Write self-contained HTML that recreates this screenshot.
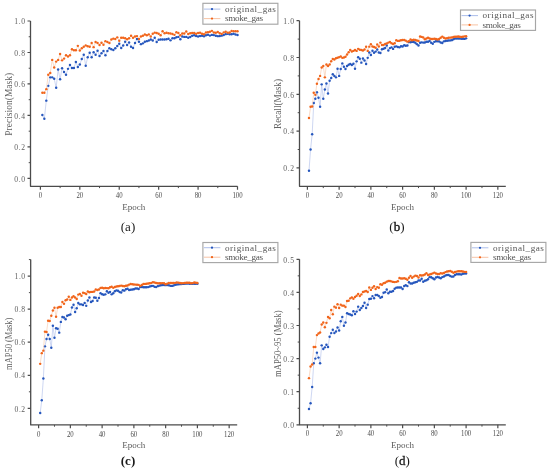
<!DOCTYPE html>
<html><head><meta charset="utf-8"><title>Training curves</title>
<style>
html,body{margin:0;padding:0;background:#fff;}
body{width:550px;height:472px;overflow:hidden;}
svg{display:block;}
.tl{font-family:"Liberation Serif","Noto Serif CJK SC",serif;font-size:7.6px;letter-spacing:0.55px;fill:#5c5c5c;}
.xl{font-family:"Liberation Serif","Noto Serif CJK SC",serif;font-size:7.2px;fill:#4a4a4a;}
.al{font-family:"Liberation Serif","Noto Serif CJK SC",serif;font-size:9px;fill:#5c5c5c;}
.yl{font-family:"Liberation Serif","Noto Serif CJK SC",serif;font-size:9.4px;fill:#646464;}
.lg{font-family:"Liberation Serif","Noto Serif CJK SC",serif;font-size:9.2px;fill:#555;}
.cap{font-family:"Liberation Serif",serif;font-size:13px;fill:#1a1a1a;}
.cap.b{font-weight:bold;}
</style></head>
<body>
<svg width="550" height="472" viewBox="0 0 550 472">
<rect width="550" height="472" fill="#fff"/>
<g id="pA"><path d="M42.37,114.97 L44.34,118.75 L46.31,100.64 L48.28,85.85 L50.25,77.35 L52.23,77.35 L54.2,78.77 L56.17,87.74 L58.14,69.48 L60.11,79.24 L62.08,68.22 L64.05,72 L66.02,74.67 L67.99,68.85 L69.97,65.07 L71.94,68.06 L73.91,68.06 L75.88,61.92 L77.85,66.96 L79.82,64.44 L81.79,58.93 L83.76,54.84 L85.73,65.7 L87.7,57.2 L89.68,52.79 L91.65,57.2 L93.62,52.17 L95.59,54.84 L97.56,50.75 L99.53,55.94 L101.5,53.27 L103.47,51.06 L105.44,55.16 L107.41,50.91 L109.38,48.23 L111.36,49.17 L113.33,49.96 L115.3,48.23 L117.27,46.03 L119.24,43.82 L121.21,48.07 L123.18,45.55 L125.15,41.78 L127.12,45.08 L129.09,42.56 L131.07,46.81 L133.04,48.07 L135.01,43.04 L136.98,38.94 L138.95,41.78 L140.92,44.14 L142.89,43.35 L144.86,41.78 L146.83,41.15 L148.81,40.52 L150.78,39.57 L152.75,40.52 L154.72,37.68 L156.69,41.93 L158.66,39.73 L160.63,39.57 L162.6,39.42 L164.57,39.57 L166.54,39.26 L168.52,38.79 L170.49,40.36 L172.46,38.16 L174.43,38.31 L176.4,37.21 L178.37,36.9 L180.34,39.26 L182.31,36.58 L184.28,36.9 L186.25,36.9 L188.23,37.84 L190.2,37.05 L192.17,35.8 L194.14,35.26 L196.11,35.98 L198.08,36.42 L200.05,35.99 L202.02,35.79 L203.99,36.31 L205.96,35.19 L207.94,34.75 L209.91,35.6 L211.88,34.9 L213.85,35.12 L215.82,35.75 L217.79,36.14 L219.76,36.06 L221.73,35.63 L223.7,35.06 L225.67,34.13 L227.65,33.75 L229.62,34.27 L231.59,34.25 L233.56,33.66 L235.53,34.56 L237.5,35.01" fill="none" stroke="#b9c5ec" stroke-width="0.7"/>
<g fill="#2657bd"><circle cx="42.37" cy="114.97" r="1.22"/><circle cx="44.34" cy="118.75" r="1.22"/><circle cx="46.31" cy="100.64" r="1.22"/><circle cx="48.28" cy="85.85" r="1.22"/><circle cx="50.25" cy="77.35" r="1.22"/><circle cx="52.23" cy="77.35" r="1.22"/><circle cx="54.2" cy="78.77" r="1.22"/><circle cx="56.17" cy="87.74" r="1.22"/><circle cx="58.14" cy="69.48" r="1.22"/><circle cx="60.11" cy="79.24" r="1.22"/><circle cx="62.08" cy="68.22" r="1.22"/><circle cx="64.05" cy="72" r="1.22"/><circle cx="66.02" cy="74.67" r="1.22"/><circle cx="67.99" cy="68.85" r="1.22"/><circle cx="69.97" cy="65.07" r="1.22"/><circle cx="71.94" cy="68.06" r="1.22"/><circle cx="73.91" cy="68.06" r="1.22"/><circle cx="75.88" cy="61.92" r="1.22"/><circle cx="77.85" cy="66.96" r="1.22"/><circle cx="79.82" cy="64.44" r="1.22"/><circle cx="81.79" cy="58.93" r="1.22"/><circle cx="83.76" cy="54.84" r="1.22"/><circle cx="85.73" cy="65.7" r="1.22"/><circle cx="87.7" cy="57.2" r="1.22"/><circle cx="89.68" cy="52.79" r="1.22"/><circle cx="91.65" cy="57.2" r="1.22"/><circle cx="93.62" cy="52.17" r="1.22"/><circle cx="95.59" cy="54.84" r="1.22"/><circle cx="97.56" cy="50.75" r="1.22"/><circle cx="99.53" cy="55.94" r="1.22"/><circle cx="101.5" cy="53.27" r="1.22"/><circle cx="103.47" cy="51.06" r="1.22"/><circle cx="105.44" cy="55.16" r="1.22"/><circle cx="107.41" cy="50.91" r="1.22"/><circle cx="109.38" cy="48.23" r="1.22"/><circle cx="111.36" cy="49.17" r="1.22"/><circle cx="113.33" cy="49.96" r="1.22"/><circle cx="115.3" cy="48.23" r="1.22"/><circle cx="117.27" cy="46.03" r="1.22"/><circle cx="119.24" cy="43.82" r="1.22"/><circle cx="121.21" cy="48.07" r="1.22"/><circle cx="123.18" cy="45.55" r="1.22"/><circle cx="125.15" cy="41.78" r="1.22"/><circle cx="127.12" cy="45.08" r="1.22"/><circle cx="129.09" cy="42.56" r="1.22"/><circle cx="131.07" cy="46.81" r="1.22"/><circle cx="133.04" cy="48.07" r="1.22"/><circle cx="135.01" cy="43.04" r="1.22"/><circle cx="136.98" cy="38.94" r="1.22"/><circle cx="138.95" cy="41.78" r="1.22"/><circle cx="140.92" cy="44.14" r="1.22"/><circle cx="142.89" cy="43.35" r="1.22"/><circle cx="144.86" cy="41.78" r="1.22"/><circle cx="146.83" cy="41.15" r="1.22"/><circle cx="148.81" cy="40.52" r="1.22"/><circle cx="150.78" cy="39.57" r="1.22"/><circle cx="152.75" cy="40.52" r="1.22"/><circle cx="154.72" cy="37.68" r="1.22"/><circle cx="156.69" cy="41.93" r="1.22"/><circle cx="158.66" cy="39.73" r="1.22"/><circle cx="160.63" cy="39.57" r="1.22"/><circle cx="162.6" cy="39.42" r="1.22"/><circle cx="164.57" cy="39.57" r="1.22"/><circle cx="166.54" cy="39.26" r="1.22"/><circle cx="168.52" cy="38.79" r="1.22"/><circle cx="170.49" cy="40.36" r="1.22"/><circle cx="172.46" cy="38.16" r="1.22"/><circle cx="174.43" cy="38.31" r="1.22"/><circle cx="176.4" cy="37.21" r="1.22"/><circle cx="178.37" cy="36.9" r="1.22"/><circle cx="180.34" cy="39.26" r="1.22"/><circle cx="182.31" cy="36.58" r="1.22"/><circle cx="184.28" cy="36.9" r="1.22"/><circle cx="186.25" cy="36.9" r="1.22"/><circle cx="188.23" cy="37.84" r="1.22"/><circle cx="190.2" cy="37.05" r="1.22"/><circle cx="192.17" cy="35.8" r="1.22"/><circle cx="194.14" cy="35.26" r="1.22"/><circle cx="196.11" cy="35.98" r="1.22"/><circle cx="198.08" cy="36.42" r="1.22"/><circle cx="200.05" cy="35.99" r="1.22"/><circle cx="202.02" cy="35.79" r="1.22"/><circle cx="203.99" cy="36.31" r="1.22"/><circle cx="205.96" cy="35.19" r="1.22"/><circle cx="207.94" cy="34.75" r="1.22"/><circle cx="209.91" cy="35.6" r="1.22"/><circle cx="211.88" cy="34.9" r="1.22"/><circle cx="213.85" cy="35.12" r="1.22"/><circle cx="215.82" cy="35.75" r="1.22"/><circle cx="217.79" cy="36.14" r="1.22"/><circle cx="219.76" cy="36.06" r="1.22"/><circle cx="221.73" cy="35.63" r="1.22"/><circle cx="223.7" cy="35.06" r="1.22"/><circle cx="225.67" cy="34.13" r="1.22"/><circle cx="227.65" cy="33.75" r="1.22"/><circle cx="229.62" cy="34.27" r="1.22"/><circle cx="231.59" cy="34.25" r="1.22"/><circle cx="233.56" cy="33.66" r="1.22"/><circle cx="235.53" cy="34.56" r="1.22"/><circle cx="237.5" cy="35.01" r="1.22"/></g>
<path d="M42.37,92.77 L44.34,92.77 L46.31,89.15 L48.28,74.67 L50.25,72.94 L52.23,59.88 L54.2,67.43 L56.17,61.61 L58.14,59.88 L60.11,54.05 L62.08,60.35 L64.05,58.62 L66.02,55.16 L67.99,56.57 L69.97,55.16 L71.94,49.17 L73.91,50.28 L75.88,50.28 L77.85,45.87 L79.82,50.43 L81.79,48.23 L83.76,46.81 L85.73,45.4 L87.7,46.18 L89.68,46.66 L91.65,43.04 L93.62,47.13 L95.59,41.93 L97.56,43.04 L99.53,44.92 L101.5,42.72 L103.47,44.77 L105.44,41.15 L107.41,41.93 L109.38,43.04 L111.36,39.42 L113.33,38.63 L115.3,38.94 L117.27,37.37 L119.24,40.68 L121.21,37.68 L123.18,37.84 L125.15,38.16 L127.12,39.26 L129.09,38.16 L131.07,35.8 L133.04,37.84 L135.01,36.58 L136.98,36.11 L138.95,38.94 L140.92,36.58 L142.89,35.8 L144.86,34.54 L146.83,35.32 L148.81,34.38 L150.78,36.43 L152.75,33.75 L154.72,32.65 L156.69,32.96 L158.66,33.75 L160.63,35.32 L162.6,31.23 L164.57,33.28 L166.54,32.81 L168.52,33.28 L170.49,33.59 L172.46,34.06 L174.43,34.85 L176.4,32.33 L178.37,32.96 L180.34,35.32 L182.31,33.59 L184.28,33.43 L186.25,31.55 L188.23,34.06 L190.2,33.28 L192.17,32.9 L194.14,33.08 L196.11,33.81 L198.08,32.92 L200.05,32.67 L202.02,33.66 L203.99,34.34 L205.96,32.42 L207.94,32.13 L209.91,31.77 L211.88,30.85 L213.85,32.55 L215.82,32.83 L217.79,31.91 L219.76,33.3 L221.73,33.88 L223.7,32.38 L225.67,31.73 L227.65,32.64 L229.62,32.52 L231.59,30.96 L233.56,31.13 L235.53,31.23 L237.5,31.23" fill="none" stroke="#f8cdb2" stroke-width="0.7"/>
<g fill="#f1651b"><circle cx="42.37" cy="92.77" r="1.22"/><circle cx="44.34" cy="92.77" r="1.22"/><circle cx="46.31" cy="89.15" r="1.22"/><circle cx="48.28" cy="74.67" r="1.22"/><circle cx="50.25" cy="72.94" r="1.22"/><circle cx="52.23" cy="59.88" r="1.22"/><circle cx="54.2" cy="67.43" r="1.22"/><circle cx="56.17" cy="61.61" r="1.22"/><circle cx="58.14" cy="59.88" r="1.22"/><circle cx="60.11" cy="54.05" r="1.22"/><circle cx="62.08" cy="60.35" r="1.22"/><circle cx="64.05" cy="58.62" r="1.22"/><circle cx="66.02" cy="55.16" r="1.22"/><circle cx="67.99" cy="56.57" r="1.22"/><circle cx="69.97" cy="55.16" r="1.22"/><circle cx="71.94" cy="49.17" r="1.22"/><circle cx="73.91" cy="50.28" r="1.22"/><circle cx="75.88" cy="50.28" r="1.22"/><circle cx="77.85" cy="45.87" r="1.22"/><circle cx="79.82" cy="50.43" r="1.22"/><circle cx="81.79" cy="48.23" r="1.22"/><circle cx="83.76" cy="46.81" r="1.22"/><circle cx="85.73" cy="45.4" r="1.22"/><circle cx="87.7" cy="46.18" r="1.22"/><circle cx="89.68" cy="46.66" r="1.22"/><circle cx="91.65" cy="43.04" r="1.22"/><circle cx="93.62" cy="47.13" r="1.22"/><circle cx="95.59" cy="41.93" r="1.22"/><circle cx="97.56" cy="43.04" r="1.22"/><circle cx="99.53" cy="44.92" r="1.22"/><circle cx="101.5" cy="42.72" r="1.22"/><circle cx="103.47" cy="44.77" r="1.22"/><circle cx="105.44" cy="41.15" r="1.22"/><circle cx="107.41" cy="41.93" r="1.22"/><circle cx="109.38" cy="43.04" r="1.22"/><circle cx="111.36" cy="39.42" r="1.22"/><circle cx="113.33" cy="38.63" r="1.22"/><circle cx="115.3" cy="38.94" r="1.22"/><circle cx="117.27" cy="37.37" r="1.22"/><circle cx="119.24" cy="40.68" r="1.22"/><circle cx="121.21" cy="37.68" r="1.22"/><circle cx="123.18" cy="37.84" r="1.22"/><circle cx="125.15" cy="38.16" r="1.22"/><circle cx="127.12" cy="39.26" r="1.22"/><circle cx="129.09" cy="38.16" r="1.22"/><circle cx="131.07" cy="35.8" r="1.22"/><circle cx="133.04" cy="37.84" r="1.22"/><circle cx="135.01" cy="36.58" r="1.22"/><circle cx="136.98" cy="36.11" r="1.22"/><circle cx="138.95" cy="38.94" r="1.22"/><circle cx="140.92" cy="36.58" r="1.22"/><circle cx="142.89" cy="35.8" r="1.22"/><circle cx="144.86" cy="34.54" r="1.22"/><circle cx="146.83" cy="35.32" r="1.22"/><circle cx="148.81" cy="34.38" r="1.22"/><circle cx="150.78" cy="36.43" r="1.22"/><circle cx="152.75" cy="33.75" r="1.22"/><circle cx="154.72" cy="32.65" r="1.22"/><circle cx="156.69" cy="32.96" r="1.22"/><circle cx="158.66" cy="33.75" r="1.22"/><circle cx="160.63" cy="35.32" r="1.22"/><circle cx="162.6" cy="31.23" r="1.22"/><circle cx="164.57" cy="33.28" r="1.22"/><circle cx="166.54" cy="32.81" r="1.22"/><circle cx="168.52" cy="33.28" r="1.22"/><circle cx="170.49" cy="33.59" r="1.22"/><circle cx="172.46" cy="34.06" r="1.22"/><circle cx="174.43" cy="34.85" r="1.22"/><circle cx="176.4" cy="32.33" r="1.22"/><circle cx="178.37" cy="32.96" r="1.22"/><circle cx="180.34" cy="35.32" r="1.22"/><circle cx="182.31" cy="33.59" r="1.22"/><circle cx="184.28" cy="33.43" r="1.22"/><circle cx="186.25" cy="31.55" r="1.22"/><circle cx="188.23" cy="34.06" r="1.22"/><circle cx="190.2" cy="33.28" r="1.22"/><circle cx="192.17" cy="32.9" r="1.22"/><circle cx="194.14" cy="33.08" r="1.22"/><circle cx="196.11" cy="33.81" r="1.22"/><circle cx="198.08" cy="32.92" r="1.22"/><circle cx="200.05" cy="32.67" r="1.22"/><circle cx="202.02" cy="33.66" r="1.22"/><circle cx="203.99" cy="34.34" r="1.22"/><circle cx="205.96" cy="32.42" r="1.22"/><circle cx="207.94" cy="32.13" r="1.22"/><circle cx="209.91" cy="31.77" r="1.22"/><circle cx="211.88" cy="30.85" r="1.22"/><circle cx="213.85" cy="32.55" r="1.22"/><circle cx="215.82" cy="32.83" r="1.22"/><circle cx="217.79" cy="31.91" r="1.22"/><circle cx="219.76" cy="33.3" r="1.22"/><circle cx="221.73" cy="33.88" r="1.22"/><circle cx="223.7" cy="32.38" r="1.22"/><circle cx="225.67" cy="31.73" r="1.22"/><circle cx="227.65" cy="32.64" r="1.22"/><circle cx="229.62" cy="32.52" r="1.22"/><circle cx="231.59" cy="30.96" r="1.22"/><circle cx="233.56" cy="31.13" r="1.22"/><circle cx="235.53" cy="31.23" r="1.22"/><circle cx="237.5" cy="31.23" r="1.22"/></g>
<path d="M30.5,21 V186.3 H237.5" fill="none" stroke="#4b4b4b" stroke-width="1.3" stroke-linejoin="round"/>
<path d="M30.5,178.4 h-3 M30.5,146.92 h-3 M30.5,115.44 h-3 M30.5,83.96 h-3 M30.5,52.48 h-3 M30.5,21 h-3 M40.4,186.3 v3.4 M79.82,186.3 v3.4 M119.24,186.3 v3.4 M158.66,186.3 v3.4 M198.08,186.3 v3.4 M237.5,186.3 v3.4" stroke="#4b4b4b" stroke-width="1.2"/>
<path d="M30.5,162.66 h-1.8 M30.5,131.18 h-1.8 M30.5,99.7 h-1.8 M30.5,68.22 h-1.8 M30.5,36.74 h-1.8 M60.11,186.3 v1.8 M99.53,186.3 v1.8 M138.95,186.3 v1.8 M178.37,186.3 v1.8 M217.79,186.3 v1.8" stroke="#4b4b4b" stroke-width="1"/>
<text x="25.5" y="181.6" class="tl" text-anchor="end">0.0</text>
<text x="25.5" y="150.12" class="tl" text-anchor="end">0.2</text>
<text x="25.5" y="118.64" class="tl" text-anchor="end">0.4</text>
<text x="25.5" y="87.16" class="tl" text-anchor="end">0.6</text>
<text x="25.5" y="55.68" class="tl" text-anchor="end">0.8</text>
<text x="25.5" y="24.2" class="tl" text-anchor="end">1.0</text>
<text x="40.4" y="197.9" class="xl" text-anchor="middle" textLength="3.4" lengthAdjust="spacingAndGlyphs">0</text>
<text x="79.82" y="197.9" class="xl" text-anchor="middle" textLength="6.8" lengthAdjust="spacingAndGlyphs">20</text>
<text x="119.24" y="197.9" class="xl" text-anchor="middle" textLength="6.8" lengthAdjust="spacingAndGlyphs">40</text>
<text x="158.66" y="197.9" class="xl" text-anchor="middle" textLength="6.8" lengthAdjust="spacingAndGlyphs">60</text>
<text x="198.08" y="197.9" class="xl" text-anchor="middle" textLength="6.8" lengthAdjust="spacingAndGlyphs">80</text>
<text x="237.5" y="197.9" class="xl" text-anchor="middle" textLength="10.2" lengthAdjust="spacingAndGlyphs">100</text>
<text x="133.8" y="209.6" class="al" text-anchor="middle">Epoch</text>
<text transform="translate(11.7,135.8) rotate(-90)" class="yl" textLength="63" lengthAdjust="spacing">Precision(Mask)</text>
<text x="128" y="230.7" class="cap" text-anchor="middle">(a)</text>
<rect x="202.9" y="3.3" width="75" height="20.9" fill="#fff" stroke="#a6a6a6" stroke-width="1.15"/>
<line x1="203.9" y1="9.1" x2="220.4" y2="9.1" stroke="#9db2e6" stroke-width="0.85"/>
<circle cx="212" cy="9.1" r="1.15" fill="#2657bd"/>
<text x="224.9" y="11.9" class="lg" textLength="51" lengthAdjust="spacing">original_gas</text>
<line x1="203.9" y1="18.6" x2="220.4" y2="18.6" stroke="#f6b894" stroke-width="0.85"/>
<circle cx="212" cy="18.6" r="1.15" fill="#f1651b"/>
<text x="224.9" y="21.4" class="lg" textLength="38.3" lengthAdjust="spacing">smoke_gas</text></g>
<g id="pB"><path d="M308.99,170.84 L310.57,149.5 L312.16,134.23 L313.75,102.95 L315.33,98.72 L316.92,92.28 L318.51,97.8 L320.1,106.81 L321.68,84.36 L323.27,98.72 L324.86,89.52 L326.44,83.44 L328.03,93.56 L329.62,80.68 L331.2,77.92 L332.79,74.24 L334.38,75.9 L335.97,77.37 L337.55,68.72 L339.14,75.9 L340.73,69.09 L342.31,63.39 L343.9,66.7 L345.49,69.09 L347.07,65.96 L348.66,64.68 L350.25,63.94 L351.84,65.04 L353.42,63.76 L355.01,68.72 L356.6,61.36 L358.18,57.13 L359.77,58.79 L361.36,62.65 L362.94,58.42 L364.53,60.44 L366.12,63.94 L367.71,57.87 L369.29,52.53 L370.88,54.92 L372.47,50.69 L374.05,52.72 L375.64,51.61 L377.23,49.59 L378.81,52.53 L380.4,53.08 L381.99,49.22 L383.58,48.67 L385.16,47.93 L386.75,45.54 L388.34,50.51 L389.92,48.12 L391.51,47.38 L393.1,48.9 L394.68,46.67 L396.27,46.37 L397.86,47.02 L399.45,47.37 L401.03,46.28 L402.62,46.56 L404.21,45.21 L405.79,45.66 L407.38,45.55 L408.97,41.92 L410.55,42.19 L412.14,41.88 L413.73,41.95 L415.32,42.77 L416.9,44.15 L418.49,45.57 L420.08,42.82 L421.66,42.37 L423.25,42.6 L424.84,42.56 L426.42,41.72 L428.01,41.66 L429.6,41.02 L431.19,42.74 L432.77,43.79 L434.36,41.85 L435.95,41.31 L437.53,41.31 L439.12,41.39 L440.71,42.46 L442.29,43.02 L443.88,41.35 L445.47,40.96 L447.06,40.77 L448.64,40.57 L450.23,40.38 L451.82,40.14 L453.4,39.28 L454.99,38.42 L456.58,38.44 L458.16,38.53 L459.75,38.62 L461.34,38.7 L462.93,38.81 L464.51,38.88 L466.1,38.35" fill="none" stroke="#b9c5ec" stroke-width="0.7"/>
<g fill="#2657bd"><circle cx="308.99" cy="170.84" r="1.22"/><circle cx="310.57" cy="149.5" r="1.22"/><circle cx="312.16" cy="134.23" r="1.22"/><circle cx="313.75" cy="102.95" r="1.22"/><circle cx="315.33" cy="98.72" r="1.22"/><circle cx="316.92" cy="92.28" r="1.22"/><circle cx="318.51" cy="97.8" r="1.22"/><circle cx="320.1" cy="106.81" r="1.22"/><circle cx="321.68" cy="84.36" r="1.22"/><circle cx="323.27" cy="98.72" r="1.22"/><circle cx="324.86" cy="89.52" r="1.22"/><circle cx="326.44" cy="83.44" r="1.22"/><circle cx="328.03" cy="93.56" r="1.22"/><circle cx="329.62" cy="80.68" r="1.22"/><circle cx="331.2" cy="77.92" r="1.22"/><circle cx="332.79" cy="74.24" r="1.22"/><circle cx="334.38" cy="75.9" r="1.22"/><circle cx="335.97" cy="77.37" r="1.22"/><circle cx="337.55" cy="68.72" r="1.22"/><circle cx="339.14" cy="75.9" r="1.22"/><circle cx="340.73" cy="69.09" r="1.22"/><circle cx="342.31" cy="63.39" r="1.22"/><circle cx="343.9" cy="66.7" r="1.22"/><circle cx="345.49" cy="69.09" r="1.22"/><circle cx="347.07" cy="65.96" r="1.22"/><circle cx="348.66" cy="64.68" r="1.22"/><circle cx="350.25" cy="63.94" r="1.22"/><circle cx="351.84" cy="65.04" r="1.22"/><circle cx="353.42" cy="63.76" r="1.22"/><circle cx="355.01" cy="68.72" r="1.22"/><circle cx="356.6" cy="61.36" r="1.22"/><circle cx="358.18" cy="57.13" r="1.22"/><circle cx="359.77" cy="58.79" r="1.22"/><circle cx="361.36" cy="62.65" r="1.22"/><circle cx="362.94" cy="58.42" r="1.22"/><circle cx="364.53" cy="60.44" r="1.22"/><circle cx="366.12" cy="63.94" r="1.22"/><circle cx="367.71" cy="57.87" r="1.22"/><circle cx="369.29" cy="52.53" r="1.22"/><circle cx="370.88" cy="54.92" r="1.22"/><circle cx="372.47" cy="50.69" r="1.22"/><circle cx="374.05" cy="52.72" r="1.22"/><circle cx="375.64" cy="51.61" r="1.22"/><circle cx="377.23" cy="49.59" r="1.22"/><circle cx="378.81" cy="52.53" r="1.22"/><circle cx="380.4" cy="53.08" r="1.22"/><circle cx="381.99" cy="49.22" r="1.22"/><circle cx="383.58" cy="48.67" r="1.22"/><circle cx="385.16" cy="47.93" r="1.22"/><circle cx="386.75" cy="45.54" r="1.22"/><circle cx="388.34" cy="50.51" r="1.22"/><circle cx="389.92" cy="48.12" r="1.22"/><circle cx="391.51" cy="47.38" r="1.22"/><circle cx="393.1" cy="48.9" r="1.22"/><circle cx="394.68" cy="46.67" r="1.22"/><circle cx="396.27" cy="46.37" r="1.22"/><circle cx="397.86" cy="47.02" r="1.22"/><circle cx="399.45" cy="47.37" r="1.22"/><circle cx="401.03" cy="46.28" r="1.22"/><circle cx="402.62" cy="46.56" r="1.22"/><circle cx="404.21" cy="45.21" r="1.22"/><circle cx="405.79" cy="45.66" r="1.22"/><circle cx="407.38" cy="45.55" r="1.22"/><circle cx="408.97" cy="41.92" r="1.22"/><circle cx="410.55" cy="42.19" r="1.22"/><circle cx="412.14" cy="41.88" r="1.22"/><circle cx="413.73" cy="41.95" r="1.22"/><circle cx="415.32" cy="42.77" r="1.22"/><circle cx="416.9" cy="44.15" r="1.22"/><circle cx="418.49" cy="45.57" r="1.22"/><circle cx="420.08" cy="42.82" r="1.22"/><circle cx="421.66" cy="42.37" r="1.22"/><circle cx="423.25" cy="42.6" r="1.22"/><circle cx="424.84" cy="42.56" r="1.22"/><circle cx="426.42" cy="41.72" r="1.22"/><circle cx="428.01" cy="41.66" r="1.22"/><circle cx="429.6" cy="41.02" r="1.22"/><circle cx="431.19" cy="42.74" r="1.22"/><circle cx="432.77" cy="43.79" r="1.22"/><circle cx="434.36" cy="41.85" r="1.22"/><circle cx="435.95" cy="41.31" r="1.22"/><circle cx="437.53" cy="41.31" r="1.22"/><circle cx="439.12" cy="41.39" r="1.22"/><circle cx="440.71" cy="42.46" r="1.22"/><circle cx="442.29" cy="43.02" r="1.22"/><circle cx="443.88" cy="41.35" r="1.22"/><circle cx="445.47" cy="40.96" r="1.22"/><circle cx="447.06" cy="40.77" r="1.22"/><circle cx="448.64" cy="40.57" r="1.22"/><circle cx="450.23" cy="40.38" r="1.22"/><circle cx="451.82" cy="40.14" r="1.22"/><circle cx="453.4" cy="39.28" r="1.22"/><circle cx="454.99" cy="38.42" r="1.22"/><circle cx="456.58" cy="38.44" r="1.22"/><circle cx="458.16" cy="38.53" r="1.22"/><circle cx="459.75" cy="38.62" r="1.22"/><circle cx="461.34" cy="38.7" r="1.22"/><circle cx="462.93" cy="38.81" r="1.22"/><circle cx="464.51" cy="38.88" r="1.22"/><circle cx="466.1" cy="38.35" r="1.22"/></g>
<path d="M308.99,118.04 L310.57,106.81 L312.16,106.44 L313.75,92.83 L315.33,94.85 L316.92,83.81 L318.51,79.03 L320.1,75.9 L321.68,67.44 L323.27,65.96 L324.86,77.37 L326.44,64.49 L328.03,65.96 L329.62,64.49 L331.2,61.18 L332.79,58.97 L334.38,59.52 L335.97,58.24 L337.55,57.68 L339.14,57.13 L340.73,56.4 L342.31,57.87 L343.9,57.5 L345.49,56.76 L347.07,54.56 L348.66,52.16 L350.25,49.96 L351.84,51.43 L353.42,50.88 L355.01,49.96 L356.6,50.88 L358.18,48.85 L359.77,49.77 L361.36,49.96 L362.94,50.51 L364.53,49.59 L366.12,46.83 L367.71,50.88 L369.29,46.64 L370.88,44.25 L372.47,46.46 L374.05,47.01 L375.64,47.75 L377.23,44.44 L378.81,46.46 L380.4,42.6 L381.99,44.99 L383.58,44.99 L385.16,43.88 L386.75,43.52 L388.34,42.6 L389.92,42.04 L391.51,43.33 L393.1,43.98 L394.68,43.23 L396.27,40.34 L397.86,40.9 L399.45,40.78 L401.03,40.2 L402.62,39.97 L404.21,40.06 L405.79,40.64 L407.38,41.65 L408.97,41.22 L410.55,39.58 L412.14,40.17 L413.73,39.77 L415.32,39.95 L416.9,40.52 L418.49,41.04 L420.08,36.41 L421.66,36.89 L423.25,37.44 L424.84,39.24 L426.42,38.59 L428.01,37.76 L429.6,38.46 L431.19,39.03 L432.77,38.95 L434.36,38.78 L435.95,39.04 L437.53,39.47 L439.12,38.97 L440.71,37.78 L442.29,36.6 L443.88,37.83 L445.47,38.58 L447.06,38.15 L448.64,37.77 L450.23,37.6 L451.82,37.42 L453.4,37.08 L454.99,36.73 L456.58,36.63 L458.16,36.54 L459.75,36.73 L461.34,36.98 L462.93,36.8 L464.51,36.37 L466.1,36.33" fill="none" stroke="#f8cdb2" stroke-width="0.7"/>
<g fill="#f1651b"><circle cx="308.99" cy="118.04" r="1.22"/><circle cx="310.57" cy="106.81" r="1.22"/><circle cx="312.16" cy="106.44" r="1.22"/><circle cx="313.75" cy="92.83" r="1.22"/><circle cx="315.33" cy="94.85" r="1.22"/><circle cx="316.92" cy="83.81" r="1.22"/><circle cx="318.51" cy="79.03" r="1.22"/><circle cx="320.1" cy="75.9" r="1.22"/><circle cx="321.68" cy="67.44" r="1.22"/><circle cx="323.27" cy="65.96" r="1.22"/><circle cx="324.86" cy="77.37" r="1.22"/><circle cx="326.44" cy="64.49" r="1.22"/><circle cx="328.03" cy="65.96" r="1.22"/><circle cx="329.62" cy="64.49" r="1.22"/><circle cx="331.2" cy="61.18" r="1.22"/><circle cx="332.79" cy="58.97" r="1.22"/><circle cx="334.38" cy="59.52" r="1.22"/><circle cx="335.97" cy="58.24" r="1.22"/><circle cx="337.55" cy="57.68" r="1.22"/><circle cx="339.14" cy="57.13" r="1.22"/><circle cx="340.73" cy="56.4" r="1.22"/><circle cx="342.31" cy="57.87" r="1.22"/><circle cx="343.9" cy="57.5" r="1.22"/><circle cx="345.49" cy="56.76" r="1.22"/><circle cx="347.07" cy="54.56" r="1.22"/><circle cx="348.66" cy="52.16" r="1.22"/><circle cx="350.25" cy="49.96" r="1.22"/><circle cx="351.84" cy="51.43" r="1.22"/><circle cx="353.42" cy="50.88" r="1.22"/><circle cx="355.01" cy="49.96" r="1.22"/><circle cx="356.6" cy="50.88" r="1.22"/><circle cx="358.18" cy="48.85" r="1.22"/><circle cx="359.77" cy="49.77" r="1.22"/><circle cx="361.36" cy="49.96" r="1.22"/><circle cx="362.94" cy="50.51" r="1.22"/><circle cx="364.53" cy="49.59" r="1.22"/><circle cx="366.12" cy="46.83" r="1.22"/><circle cx="367.71" cy="50.88" r="1.22"/><circle cx="369.29" cy="46.64" r="1.22"/><circle cx="370.88" cy="44.25" r="1.22"/><circle cx="372.47" cy="46.46" r="1.22"/><circle cx="374.05" cy="47.01" r="1.22"/><circle cx="375.64" cy="47.75" r="1.22"/><circle cx="377.23" cy="44.44" r="1.22"/><circle cx="378.81" cy="46.46" r="1.22"/><circle cx="380.4" cy="42.6" r="1.22"/><circle cx="381.99" cy="44.99" r="1.22"/><circle cx="383.58" cy="44.99" r="1.22"/><circle cx="385.16" cy="43.88" r="1.22"/><circle cx="386.75" cy="43.52" r="1.22"/><circle cx="388.34" cy="42.6" r="1.22"/><circle cx="389.92" cy="42.04" r="1.22"/><circle cx="391.51" cy="43.33" r="1.22"/><circle cx="393.1" cy="43.98" r="1.22"/><circle cx="394.68" cy="43.23" r="1.22"/><circle cx="396.27" cy="40.34" r="1.22"/><circle cx="397.86" cy="40.9" r="1.22"/><circle cx="399.45" cy="40.78" r="1.22"/><circle cx="401.03" cy="40.2" r="1.22"/><circle cx="402.62" cy="39.97" r="1.22"/><circle cx="404.21" cy="40.06" r="1.22"/><circle cx="405.79" cy="40.64" r="1.22"/><circle cx="407.38" cy="41.65" r="1.22"/><circle cx="408.97" cy="41.22" r="1.22"/><circle cx="410.55" cy="39.58" r="1.22"/><circle cx="412.14" cy="40.17" r="1.22"/><circle cx="413.73" cy="39.77" r="1.22"/><circle cx="415.32" cy="39.95" r="1.22"/><circle cx="416.9" cy="40.52" r="1.22"/><circle cx="418.49" cy="41.04" r="1.22"/><circle cx="420.08" cy="36.41" r="1.22"/><circle cx="421.66" cy="36.89" r="1.22"/><circle cx="423.25" cy="37.44" r="1.22"/><circle cx="424.84" cy="39.24" r="1.22"/><circle cx="426.42" cy="38.59" r="1.22"/><circle cx="428.01" cy="37.76" r="1.22"/><circle cx="429.6" cy="38.46" r="1.22"/><circle cx="431.19" cy="39.03" r="1.22"/><circle cx="432.77" cy="38.95" r="1.22"/><circle cx="434.36" cy="38.78" r="1.22"/><circle cx="435.95" cy="39.04" r="1.22"/><circle cx="437.53" cy="39.47" r="1.22"/><circle cx="439.12" cy="38.97" r="1.22"/><circle cx="440.71" cy="37.78" r="1.22"/><circle cx="442.29" cy="36.6" r="1.22"/><circle cx="443.88" cy="37.83" r="1.22"/><circle cx="445.47" cy="38.58" r="1.22"/><circle cx="447.06" cy="38.15" r="1.22"/><circle cx="448.64" cy="37.77" r="1.22"/><circle cx="450.23" cy="37.6" r="1.22"/><circle cx="451.82" cy="37.42" r="1.22"/><circle cx="453.4" cy="37.08" r="1.22"/><circle cx="454.99" cy="36.73" r="1.22"/><circle cx="456.58" cy="36.63" r="1.22"/><circle cx="458.16" cy="36.54" r="1.22"/><circle cx="459.75" cy="36.73" r="1.22"/><circle cx="461.34" cy="36.98" r="1.22"/><circle cx="462.93" cy="36.8" r="1.22"/><circle cx="464.51" cy="36.37" r="1.22"/><circle cx="466.1" cy="36.33" r="1.22"/></g>
<path d="M299.5,20.7 V186.3 H505.8" fill="none" stroke="#4b4b4b" stroke-width="1.3" stroke-linejoin="round"/>
<path d="M299.5,167.9 h-3 M299.5,131.1 h-3 M299.5,94.3 h-3 M299.5,57.5 h-3 M299.5,20.7 h-3 M307.4,186.3 v3.4 M339.14,186.3 v3.4 M370.88,186.3 v3.4 M402.62,186.3 v3.4 M434.36,186.3 v3.4 M466.1,186.3 v3.4 M497.84,186.3 v3.4" stroke="#4b4b4b" stroke-width="1.2"/>
<path d="M299.5,149.5 h-1.8 M299.5,112.7 h-1.8 M299.5,75.9 h-1.8 M299.5,39.1 h-1.8 M323.27,186.3 v1.8 M355.01,186.3 v1.8 M386.75,186.3 v1.8 M418.49,186.3 v1.8 M450.23,186.3 v1.8 M481.97,186.3 v1.8" stroke="#4b4b4b" stroke-width="1"/>
<text x="294.5" y="171.1" class="tl" text-anchor="end">0.2</text>
<text x="294.5" y="134.3" class="tl" text-anchor="end">0.4</text>
<text x="294.5" y="97.5" class="tl" text-anchor="end">0.6</text>
<text x="294.5" y="60.7" class="tl" text-anchor="end">0.8</text>
<text x="294.5" y="23.9" class="tl" text-anchor="end">1.0</text>
<text x="307.4" y="197.9" class="xl" text-anchor="middle" textLength="3.4" lengthAdjust="spacingAndGlyphs">0</text>
<text x="339.14" y="197.9" class="xl" text-anchor="middle" textLength="6.8" lengthAdjust="spacingAndGlyphs">20</text>
<text x="370.88" y="197.9" class="xl" text-anchor="middle" textLength="6.8" lengthAdjust="spacingAndGlyphs">40</text>
<text x="402.62" y="197.9" class="xl" text-anchor="middle" textLength="6.8" lengthAdjust="spacingAndGlyphs">60</text>
<text x="434.36" y="197.9" class="xl" text-anchor="middle" textLength="6.8" lengthAdjust="spacingAndGlyphs">80</text>
<text x="466.1" y="197.9" class="xl" text-anchor="middle" textLength="10.2" lengthAdjust="spacingAndGlyphs">100</text>
<text x="497.84" y="197.9" class="xl" text-anchor="middle" textLength="10.2" lengthAdjust="spacingAndGlyphs">120</text>
<text x="402.5" y="209.5" class="al" text-anchor="middle">Epoch</text>
<text transform="translate(280.5,129) rotate(-90)" class="yl" textLength="50" lengthAdjust="spacingAndGlyphs">Recall(Mask)</text>
<text x="396.9" y="231.3" class="cap" text-anchor="middle">(<tspan stroke="#1a1a1a" stroke-width="0.4">b</tspan>)</text>
<rect x="460.5" y="10" width="75" height="20.4" fill="#fff" stroke="#a6a6a6" stroke-width="1.15"/>
<line x1="461.5" y1="15.6" x2="478" y2="15.6" stroke="#9db2e6" stroke-width="0.85"/>
<circle cx="469.6" cy="15.6" r="1.15" fill="#2657bd"/>
<text x="482.5" y="18.4" class="lg" textLength="51" lengthAdjust="spacing">original_gas</text>
<line x1="461.5" y1="24.9" x2="478" y2="24.9" stroke="#f6b894" stroke-width="0.85"/>
<circle cx="469.6" cy="24.9" r="1.15" fill="#f1651b"/>
<text x="482.5" y="27.7" class="lg" textLength="38.3" lengthAdjust="spacing">smoke_gas</text></g>
<g id="pC"><path d="M40.19,412.97 L41.78,400.24 L43.36,378.42 L44.95,346.35 L46.54,338.91 L48.13,334.78 L49.72,338.91 L51.3,347.67 L52.89,325.69 L54.48,337.76 L56.07,328.17 L57.66,328.83 L59.24,332.63 L60.83,321.89 L62.42,316.93 L64.01,317.43 L65.6,319.24 L67.18,315.77 L68.77,315.11 L70.36,314.45 L71.95,307.51 L73.54,304.7 L75.12,311.97 L76.71,308.17 L78.3,303.04 L79.89,304.37 L81.48,304.37 L83.06,305.03 L84.65,302.88 L86.24,305.85 L87.83,300.56 L89.42,297.42 L91,302.05 L92.59,301.08 L94.18,297.51 L95.77,297.74 L97.36,300.78 L98.94,298.04 L100.53,293.15 L102.12,294.25 L103.71,294.83 L105.3,294.36 L106.88,291.22 L108.47,292.72 L110.06,292.03 L111.65,294.36 L113.24,293.31 L114.82,291.19 L116.41,290.4 L118,290.81 L119.59,292.04 L121.18,292.51 L122.76,290.17 L124.35,290.63 L125.94,289.3 L127.53,288.74 L129.12,289.91 L130.7,289.7 L132.29,289.5 L133.88,289.2 L135.47,288.49 L137.06,288.45 L138.64,288.97 L140.23,286.91 L141.82,286.95 L143.41,287.2 L145,287.31 L146.58,287.27 L148.17,287.11 L149.76,286.5 L151.35,286.08 L152.94,285.87 L154.52,286.67 L156.11,287.1 L157.7,286.15 L159.29,285.64 L160.88,285.32 L162.46,285.02 L164.05,285.06 L165.64,285.15 L167.23,285.09 L168.82,285.26 L170.4,285.87 L171.99,285.9 L173.58,285.43 L175.17,284.82 L176.76,284.45 L178.34,284.29 L179.93,284.15 L181.52,284.02 L183.11,283.9 L184.7,283.77 L186.28,283.65 L187.87,283.55 L189.46,283.67 L191.05,283.8 L192.64,283.87 L194.22,283.87 L195.81,283.87 L197.4,283.87" fill="none" stroke="#b9c5ec" stroke-width="0.7"/>
<g fill="#2657bd"><circle cx="40.19" cy="412.97" r="1.22"/><circle cx="41.78" cy="400.24" r="1.22"/><circle cx="43.36" cy="378.42" r="1.22"/><circle cx="44.95" cy="346.35" r="1.22"/><circle cx="46.54" cy="338.91" r="1.22"/><circle cx="48.13" cy="334.78" r="1.22"/><circle cx="49.72" cy="338.91" r="1.22"/><circle cx="51.3" cy="347.67" r="1.22"/><circle cx="52.89" cy="325.69" r="1.22"/><circle cx="54.48" cy="337.76" r="1.22"/><circle cx="56.07" cy="328.17" r="1.22"/><circle cx="57.66" cy="328.83" r="1.22"/><circle cx="59.24" cy="332.63" r="1.22"/><circle cx="60.83" cy="321.89" r="1.22"/><circle cx="62.42" cy="316.93" r="1.22"/><circle cx="64.01" cy="317.43" r="1.22"/><circle cx="65.6" cy="319.24" r="1.22"/><circle cx="67.18" cy="315.77" r="1.22"/><circle cx="68.77" cy="315.11" r="1.22"/><circle cx="70.36" cy="314.45" r="1.22"/><circle cx="71.95" cy="307.51" r="1.22"/><circle cx="73.54" cy="304.7" r="1.22"/><circle cx="75.12" cy="311.97" r="1.22"/><circle cx="76.71" cy="308.17" r="1.22"/><circle cx="78.3" cy="303.04" r="1.22"/><circle cx="79.89" cy="304.37" r="1.22"/><circle cx="81.48" cy="304.37" r="1.22"/><circle cx="83.06" cy="305.03" r="1.22"/><circle cx="84.65" cy="302.88" r="1.22"/><circle cx="86.24" cy="305.85" r="1.22"/><circle cx="87.83" cy="300.56" r="1.22"/><circle cx="89.42" cy="297.42" r="1.22"/><circle cx="91" cy="302.05" r="1.22"/><circle cx="92.59" cy="301.08" r="1.22"/><circle cx="94.18" cy="297.51" r="1.22"/><circle cx="95.77" cy="297.74" r="1.22"/><circle cx="97.36" cy="300.78" r="1.22"/><circle cx="98.94" cy="298.04" r="1.22"/><circle cx="100.53" cy="293.15" r="1.22"/><circle cx="102.12" cy="294.25" r="1.22"/><circle cx="103.71" cy="294.83" r="1.22"/><circle cx="105.3" cy="294.36" r="1.22"/><circle cx="106.88" cy="291.22" r="1.22"/><circle cx="108.47" cy="292.72" r="1.22"/><circle cx="110.06" cy="292.03" r="1.22"/><circle cx="111.65" cy="294.36" r="1.22"/><circle cx="113.24" cy="293.31" r="1.22"/><circle cx="114.82" cy="291.19" r="1.22"/><circle cx="116.41" cy="290.4" r="1.22"/><circle cx="118" cy="290.81" r="1.22"/><circle cx="119.59" cy="292.04" r="1.22"/><circle cx="121.18" cy="292.51" r="1.22"/><circle cx="122.76" cy="290.17" r="1.22"/><circle cx="124.35" cy="290.63" r="1.22"/><circle cx="125.94" cy="289.3" r="1.22"/><circle cx="127.53" cy="288.74" r="1.22"/><circle cx="129.12" cy="289.91" r="1.22"/><circle cx="130.7" cy="289.7" r="1.22"/><circle cx="132.29" cy="289.5" r="1.22"/><circle cx="133.88" cy="289.2" r="1.22"/><circle cx="135.47" cy="288.49" r="1.22"/><circle cx="137.06" cy="288.45" r="1.22"/><circle cx="138.64" cy="288.97" r="1.22"/><circle cx="140.23" cy="286.91" r="1.22"/><circle cx="141.82" cy="286.95" r="1.22"/><circle cx="143.41" cy="287.2" r="1.22"/><circle cx="145" cy="287.31" r="1.22"/><circle cx="146.58" cy="287.27" r="1.22"/><circle cx="148.17" cy="287.11" r="1.22"/><circle cx="149.76" cy="286.5" r="1.22"/><circle cx="151.35" cy="286.08" r="1.22"/><circle cx="152.94" cy="285.87" r="1.22"/><circle cx="154.52" cy="286.67" r="1.22"/><circle cx="156.11" cy="287.1" r="1.22"/><circle cx="157.7" cy="286.15" r="1.22"/><circle cx="159.29" cy="285.64" r="1.22"/><circle cx="160.88" cy="285.32" r="1.22"/><circle cx="162.46" cy="285.02" r="1.22"/><circle cx="164.05" cy="285.06" r="1.22"/><circle cx="165.64" cy="285.15" r="1.22"/><circle cx="167.23" cy="285.09" r="1.22"/><circle cx="168.82" cy="285.26" r="1.22"/><circle cx="170.4" cy="285.87" r="1.22"/><circle cx="171.99" cy="285.9" r="1.22"/><circle cx="173.58" cy="285.43" r="1.22"/><circle cx="175.17" cy="284.82" r="1.22"/><circle cx="176.76" cy="284.45" r="1.22"/><circle cx="178.34" cy="284.29" r="1.22"/><circle cx="179.93" cy="284.15" r="1.22"/><circle cx="181.52" cy="284.02" r="1.22"/><circle cx="183.11" cy="283.9" r="1.22"/><circle cx="184.7" cy="283.77" r="1.22"/><circle cx="186.28" cy="283.65" r="1.22"/><circle cx="187.87" cy="283.55" r="1.22"/><circle cx="189.46" cy="283.67" r="1.22"/><circle cx="191.05" cy="283.8" r="1.22"/><circle cx="192.64" cy="283.87" r="1.22"/><circle cx="194.22" cy="283.87" r="1.22"/><circle cx="195.81" cy="283.87" r="1.22"/><circle cx="197.4" cy="283.87" r="1.22"/></g>
<path d="M40.19,363.87 L41.78,353.13 L43.36,350.65 L44.95,331.64 L46.54,331.97 L48.13,320.73 L49.72,321.06 L51.3,315.77 L52.89,310.48 L54.48,307.84 L56.07,316.76 L57.66,307.84 L59.24,307.01 L60.83,307.01 L62.42,302.05 L64.01,303.87 L65.6,300.23 L67.18,299.57 L68.77,296.76 L70.36,299.9 L71.95,297.42 L73.54,296.27 L75.12,297.42 L76.71,299.08 L78.3,294.61 L79.89,293.95 L81.48,295.77 L83.06,292.63 L84.65,293.13 L86.24,293.95 L87.83,291.47 L89.42,292.3 L91,291.9 L92.59,291.88 L94.18,291.59 L95.77,289.44 L97.36,289.98 L98.94,289.49 L100.53,287.9 L102.12,287.72 L103.71,288.34 L105.3,287.92 L106.88,288.1 L108.47,288.22 L110.06,287.31 L111.65,286.69 L113.24,287.87 L114.82,287 L116.41,286.53 L118,286.23 L119.59,285.97 L121.18,285.6 L122.76,286.02 L124.35,286.17 L125.94,285.81 L127.53,285.56 L129.12,284.62 L130.7,283.95 L132.29,284.19 L133.88,284.43 L135.47,284.61 L137.06,284.73 L138.64,284.86 L140.23,285.9 L141.82,284.93 L143.41,284 L145,283.88 L146.58,283.75 L148.17,283.51 L149.76,283.2 L151.35,282.89 L152.94,282.13 L154.52,282.59 L156.11,283.08 L157.7,283.2 L159.29,283.33 L160.88,283.28 L162.46,283.12 L164.05,283.24 L165.64,284.16 L167.23,283.63 L168.82,282.99 L170.4,282.92 L171.99,282.97 L173.58,283.02 L175.17,282.85 L176.76,282.55 L178.34,282.61 L179.93,283.08 L181.52,283.3 L183.11,283.12 L184.7,282.94 L186.28,282.83 L187.87,282.77 L189.46,282.73 L191.05,283.24 L192.64,283.11 L194.22,282.49 L195.81,282.8 L197.4,282.99" fill="none" stroke="#f8cdb2" stroke-width="0.7"/>
<g fill="#f1651b"><circle cx="40.19" cy="363.87" r="1.22"/><circle cx="41.78" cy="353.13" r="1.22"/><circle cx="43.36" cy="350.65" r="1.22"/><circle cx="44.95" cy="331.64" r="1.22"/><circle cx="46.54" cy="331.97" r="1.22"/><circle cx="48.13" cy="320.73" r="1.22"/><circle cx="49.72" cy="321.06" r="1.22"/><circle cx="51.3" cy="315.77" r="1.22"/><circle cx="52.89" cy="310.48" r="1.22"/><circle cx="54.48" cy="307.84" r="1.22"/><circle cx="56.07" cy="316.76" r="1.22"/><circle cx="57.66" cy="307.84" r="1.22"/><circle cx="59.24" cy="307.01" r="1.22"/><circle cx="60.83" cy="307.01" r="1.22"/><circle cx="62.42" cy="302.05" r="1.22"/><circle cx="64.01" cy="303.87" r="1.22"/><circle cx="65.6" cy="300.23" r="1.22"/><circle cx="67.18" cy="299.57" r="1.22"/><circle cx="68.77" cy="296.76" r="1.22"/><circle cx="70.36" cy="299.9" r="1.22"/><circle cx="71.95" cy="297.42" r="1.22"/><circle cx="73.54" cy="296.27" r="1.22"/><circle cx="75.12" cy="297.42" r="1.22"/><circle cx="76.71" cy="299.08" r="1.22"/><circle cx="78.3" cy="294.61" r="1.22"/><circle cx="79.89" cy="293.95" r="1.22"/><circle cx="81.48" cy="295.77" r="1.22"/><circle cx="83.06" cy="292.63" r="1.22"/><circle cx="84.65" cy="293.13" r="1.22"/><circle cx="86.24" cy="293.95" r="1.22"/><circle cx="87.83" cy="291.47" r="1.22"/><circle cx="89.42" cy="292.3" r="1.22"/><circle cx="91" cy="291.9" r="1.22"/><circle cx="92.59" cy="291.88" r="1.22"/><circle cx="94.18" cy="291.59" r="1.22"/><circle cx="95.77" cy="289.44" r="1.22"/><circle cx="97.36" cy="289.98" r="1.22"/><circle cx="98.94" cy="289.49" r="1.22"/><circle cx="100.53" cy="287.9" r="1.22"/><circle cx="102.12" cy="287.72" r="1.22"/><circle cx="103.71" cy="288.34" r="1.22"/><circle cx="105.3" cy="287.92" r="1.22"/><circle cx="106.88" cy="288.1" r="1.22"/><circle cx="108.47" cy="288.22" r="1.22"/><circle cx="110.06" cy="287.31" r="1.22"/><circle cx="111.65" cy="286.69" r="1.22"/><circle cx="113.24" cy="287.87" r="1.22"/><circle cx="114.82" cy="287" r="1.22"/><circle cx="116.41" cy="286.53" r="1.22"/><circle cx="118" cy="286.23" r="1.22"/><circle cx="119.59" cy="285.97" r="1.22"/><circle cx="121.18" cy="285.6" r="1.22"/><circle cx="122.76" cy="286.02" r="1.22"/><circle cx="124.35" cy="286.17" r="1.22"/><circle cx="125.94" cy="285.81" r="1.22"/><circle cx="127.53" cy="285.56" r="1.22"/><circle cx="129.12" cy="284.62" r="1.22"/><circle cx="130.7" cy="283.95" r="1.22"/><circle cx="132.29" cy="284.19" r="1.22"/><circle cx="133.88" cy="284.43" r="1.22"/><circle cx="135.47" cy="284.61" r="1.22"/><circle cx="137.06" cy="284.73" r="1.22"/><circle cx="138.64" cy="284.86" r="1.22"/><circle cx="140.23" cy="285.9" r="1.22"/><circle cx="141.82" cy="284.93" r="1.22"/><circle cx="143.41" cy="284" r="1.22"/><circle cx="145" cy="283.88" r="1.22"/><circle cx="146.58" cy="283.75" r="1.22"/><circle cx="148.17" cy="283.51" r="1.22"/><circle cx="149.76" cy="283.2" r="1.22"/><circle cx="151.35" cy="282.89" r="1.22"/><circle cx="152.94" cy="282.13" r="1.22"/><circle cx="154.52" cy="282.59" r="1.22"/><circle cx="156.11" cy="283.08" r="1.22"/><circle cx="157.7" cy="283.2" r="1.22"/><circle cx="159.29" cy="283.33" r="1.22"/><circle cx="160.88" cy="283.28" r="1.22"/><circle cx="162.46" cy="283.12" r="1.22"/><circle cx="164.05" cy="283.24" r="1.22"/><circle cx="165.64" cy="284.16" r="1.22"/><circle cx="167.23" cy="283.63" r="1.22"/><circle cx="168.82" cy="282.99" r="1.22"/><circle cx="170.4" cy="282.92" r="1.22"/><circle cx="171.99" cy="282.97" r="1.22"/><circle cx="173.58" cy="283.02" r="1.22"/><circle cx="175.17" cy="282.85" r="1.22"/><circle cx="176.76" cy="282.55" r="1.22"/><circle cx="178.34" cy="282.61" r="1.22"/><circle cx="179.93" cy="283.08" r="1.22"/><circle cx="181.52" cy="283.3" r="1.22"/><circle cx="183.11" cy="283.12" r="1.22"/><circle cx="184.7" cy="282.94" r="1.22"/><circle cx="186.28" cy="282.83" r="1.22"/><circle cx="187.87" cy="282.77" r="1.22"/><circle cx="189.46" cy="282.73" r="1.22"/><circle cx="191.05" cy="283.24" r="1.22"/><circle cx="192.64" cy="283.11" r="1.22"/><circle cx="194.22" cy="282.49" r="1.22"/><circle cx="195.81" cy="282.8" r="1.22"/><circle cx="197.4" cy="282.99" r="1.22"/></g>
<path d="M30.7,259.6 V424.9 H237.2" fill="none" stroke="#4b4b4b" stroke-width="1.3" stroke-linejoin="round"/>
<path d="M30.7,408.34 h-3 M30.7,375.28 h-3 M30.7,342.22 h-3 M30.7,309.16 h-3 M30.7,276.1 h-3 M38.6,424.9 v3.4 M70.36,424.9 v3.4 M102.12,424.9 v3.4 M133.88,424.9 v3.4 M165.64,424.9 v3.4 M197.4,424.9 v3.4 M229.16,424.9 v3.4" stroke="#4b4b4b" stroke-width="1.2"/>
<path d="M30.7,391.81 h-1.8 M30.7,358.75 h-1.8 M30.7,325.69 h-1.8 M30.7,292.63 h-1.8 M30.7,259.57 h-1.8 M54.48,424.9 v1.8 M86.24,424.9 v1.8 M118,424.9 v1.8 M149.76,424.9 v1.8 M181.52,424.9 v1.8 M213.28,424.9 v1.8" stroke="#4b4b4b" stroke-width="1"/>
<text x="25.7" y="411.54" class="tl" text-anchor="end">0.2</text>
<text x="25.7" y="378.48" class="tl" text-anchor="end">0.4</text>
<text x="25.7" y="345.42" class="tl" text-anchor="end">0.6</text>
<text x="25.7" y="312.36" class="tl" text-anchor="end">0.8</text>
<text x="25.7" y="279.3" class="tl" text-anchor="end">1.0</text>
<text x="38.6" y="436.5" class="xl" text-anchor="middle" textLength="3.4" lengthAdjust="spacingAndGlyphs">0</text>
<text x="70.36" y="436.5" class="xl" text-anchor="middle" textLength="6.8" lengthAdjust="spacingAndGlyphs">20</text>
<text x="102.12" y="436.5" class="xl" text-anchor="middle" textLength="6.8" lengthAdjust="spacingAndGlyphs">40</text>
<text x="133.88" y="436.5" class="xl" text-anchor="middle" textLength="6.8" lengthAdjust="spacingAndGlyphs">60</text>
<text x="165.64" y="436.5" class="xl" text-anchor="middle" textLength="6.8" lengthAdjust="spacingAndGlyphs">80</text>
<text x="197.4" y="436.5" class="xl" text-anchor="middle" textLength="10.2" lengthAdjust="spacingAndGlyphs">100</text>
<text x="229.16" y="436.5" class="xl" text-anchor="middle" textLength="10.2" lengthAdjust="spacingAndGlyphs">120</text>
<text x="133.8" y="448" class="al" text-anchor="middle">Epoch</text>
<text transform="translate(11.7,369.9) rotate(-90)" class="yl" textLength="52.3" lengthAdjust="spacingAndGlyphs">mAP50 (Mask)</text>
<text x="128" y="465.2" class="cap b" text-anchor="middle">(c)</text>
<rect x="202.9" y="242.5" width="75" height="20.1" fill="#fff" stroke="#a6a6a6" stroke-width="1.15"/>
<line x1="203.9" y1="247.7" x2="220.4" y2="247.7" stroke="#9db2e6" stroke-width="0.85"/>
<circle cx="212" cy="247.7" r="1.15" fill="#2657bd"/>
<text x="224.9" y="250.5" class="lg" textLength="51" lengthAdjust="spacing">original_gas</text>
<line x1="203.9" y1="257.2" x2="220.4" y2="257.2" stroke="#f6b894" stroke-width="0.85"/>
<circle cx="212" cy="257.2" r="1.15" fill="#f1651b"/>
<text x="224.9" y="260" class="lg" textLength="38.3" lengthAdjust="spacing">smoke_gas</text></g>
<g id="pD"><path d="M308.99,408.91 L310.57,403.29 L312.16,387.07 L313.75,363.23 L315.33,358.6 L316.92,352.64 L318.51,357.61 L320.1,363.23 L321.68,345.36 L323.27,349 L324.86,347.35 L326.44,344.7 L328.03,347.01 L329.62,336.75 L331.2,333.11 L332.79,329.8 L334.38,333.11 L335.97,331.46 L337.55,327.49 L339.14,330.47 L340.73,321.2 L342.31,316.89 L343.9,325.83 L345.49,322.52 L347.07,313.25 L348.66,313.92 L350.25,314.58 L351.84,315.24 L353.42,311.27 L355.01,313.92 L356.6,311.6 L358.18,306.63 L359.77,309.94 L361.36,307.96 L362.94,305.97 L364.53,302.66 L366.12,307.96 L367.71,304.65 L369.29,299.04 L370.88,298.71 L372.47,296.1 L374.05,298.29 L375.64,295.05 L377.23,295.06 L378.81,295.99 L380.4,297.66 L381.99,297.04 L383.58,292.8 L385.16,292.13 L386.75,289.5 L388.34,293.24 L389.92,291.82 L391.51,291.74 L393.1,291.01 L394.68,288.69 L396.27,287.65 L397.86,287.44 L399.45,287.44 L401.03,287.47 L402.62,289.01 L404.21,286.04 L405.79,285.27 L407.38,286.1 L408.97,282.2 L410.55,283.46 L412.14,283.45 L413.73,282.79 L415.32,282.17 L416.9,281.85 L418.49,280.45 L420.08,280.48 L421.66,278.73 L423.25,281.72 L424.84,280.8 L426.42,280.18 L428.01,279.27 L429.6,277.13 L431.19,277.26 L432.77,278.24 L434.36,279.2 L435.95,277.45 L437.53,276.96 L439.12,277.49 L440.71,278.26 L442.29,277.1 L443.88,276.46 L445.47,275.46 L447.06,275.04 L448.64,274.95 L450.23,276 L451.82,276.64 L453.4,276.53 L454.99,274.92 L456.58,274.19 L458.16,274.19 L459.75,274.34 L461.34,274.47 L462.93,273.84 L464.51,273.53 L466.1,273.53" fill="none" stroke="#b9c5ec" stroke-width="0.7"/>
<g fill="#2657bd"><circle cx="308.99" cy="408.91" r="1.22"/><circle cx="310.57" cy="403.29" r="1.22"/><circle cx="312.16" cy="387.07" r="1.22"/><circle cx="313.75" cy="363.23" r="1.22"/><circle cx="315.33" cy="358.6" r="1.22"/><circle cx="316.92" cy="352.64" r="1.22"/><circle cx="318.51" cy="357.61" r="1.22"/><circle cx="320.1" cy="363.23" r="1.22"/><circle cx="321.68" cy="345.36" r="1.22"/><circle cx="323.27" cy="349" r="1.22"/><circle cx="324.86" cy="347.35" r="1.22"/><circle cx="326.44" cy="344.7" r="1.22"/><circle cx="328.03" cy="347.01" r="1.22"/><circle cx="329.62" cy="336.75" r="1.22"/><circle cx="331.2" cy="333.11" r="1.22"/><circle cx="332.79" cy="329.8" r="1.22"/><circle cx="334.38" cy="333.11" r="1.22"/><circle cx="335.97" cy="331.46" r="1.22"/><circle cx="337.55" cy="327.49" r="1.22"/><circle cx="339.14" cy="330.47" r="1.22"/><circle cx="340.73" cy="321.2" r="1.22"/><circle cx="342.31" cy="316.89" r="1.22"/><circle cx="343.9" cy="325.83" r="1.22"/><circle cx="345.49" cy="322.52" r="1.22"/><circle cx="347.07" cy="313.25" r="1.22"/><circle cx="348.66" cy="313.92" r="1.22"/><circle cx="350.25" cy="314.58" r="1.22"/><circle cx="351.84" cy="315.24" r="1.22"/><circle cx="353.42" cy="311.27" r="1.22"/><circle cx="355.01" cy="313.92" r="1.22"/><circle cx="356.6" cy="311.6" r="1.22"/><circle cx="358.18" cy="306.63" r="1.22"/><circle cx="359.77" cy="309.94" r="1.22"/><circle cx="361.36" cy="307.96" r="1.22"/><circle cx="362.94" cy="305.97" r="1.22"/><circle cx="364.53" cy="302.66" r="1.22"/><circle cx="366.12" cy="307.96" r="1.22"/><circle cx="367.71" cy="304.65" r="1.22"/><circle cx="369.29" cy="299.04" r="1.22"/><circle cx="370.88" cy="298.71" r="1.22"/><circle cx="372.47" cy="296.1" r="1.22"/><circle cx="374.05" cy="298.29" r="1.22"/><circle cx="375.64" cy="295.05" r="1.22"/><circle cx="377.23" cy="295.06" r="1.22"/><circle cx="378.81" cy="295.99" r="1.22"/><circle cx="380.4" cy="297.66" r="1.22"/><circle cx="381.99" cy="297.04" r="1.22"/><circle cx="383.58" cy="292.8" r="1.22"/><circle cx="385.16" cy="292.13" r="1.22"/><circle cx="386.75" cy="289.5" r="1.22"/><circle cx="388.34" cy="293.24" r="1.22"/><circle cx="389.92" cy="291.82" r="1.22"/><circle cx="391.51" cy="291.74" r="1.22"/><circle cx="393.1" cy="291.01" r="1.22"/><circle cx="394.68" cy="288.69" r="1.22"/><circle cx="396.27" cy="287.65" r="1.22"/><circle cx="397.86" cy="287.44" r="1.22"/><circle cx="399.45" cy="287.44" r="1.22"/><circle cx="401.03" cy="287.47" r="1.22"/><circle cx="402.62" cy="289.01" r="1.22"/><circle cx="404.21" cy="286.04" r="1.22"/><circle cx="405.79" cy="285.27" r="1.22"/><circle cx="407.38" cy="286.1" r="1.22"/><circle cx="408.97" cy="282.2" r="1.22"/><circle cx="410.55" cy="283.46" r="1.22"/><circle cx="412.14" cy="283.45" r="1.22"/><circle cx="413.73" cy="282.79" r="1.22"/><circle cx="415.32" cy="282.17" r="1.22"/><circle cx="416.9" cy="281.85" r="1.22"/><circle cx="418.49" cy="280.45" r="1.22"/><circle cx="420.08" cy="280.48" r="1.22"/><circle cx="421.66" cy="278.73" r="1.22"/><circle cx="423.25" cy="281.72" r="1.22"/><circle cx="424.84" cy="280.8" r="1.22"/><circle cx="426.42" cy="280.18" r="1.22"/><circle cx="428.01" cy="279.27" r="1.22"/><circle cx="429.6" cy="277.13" r="1.22"/><circle cx="431.19" cy="277.26" r="1.22"/><circle cx="432.77" cy="278.24" r="1.22"/><circle cx="434.36" cy="279.2" r="1.22"/><circle cx="435.95" cy="277.45" r="1.22"/><circle cx="437.53" cy="276.96" r="1.22"/><circle cx="439.12" cy="277.49" r="1.22"/><circle cx="440.71" cy="278.26" r="1.22"/><circle cx="442.29" cy="277.1" r="1.22"/><circle cx="443.88" cy="276.46" r="1.22"/><circle cx="445.47" cy="275.46" r="1.22"/><circle cx="447.06" cy="275.04" r="1.22"/><circle cx="448.64" cy="274.95" r="1.22"/><circle cx="450.23" cy="276" r="1.22"/><circle cx="451.82" cy="276.64" r="1.22"/><circle cx="453.4" cy="276.53" r="1.22"/><circle cx="454.99" cy="274.92" r="1.22"/><circle cx="456.58" cy="274.19" r="1.22"/><circle cx="458.16" cy="274.19" r="1.22"/><circle cx="459.75" cy="274.34" r="1.22"/><circle cx="461.34" cy="274.47" r="1.22"/><circle cx="462.93" cy="273.84" r="1.22"/><circle cx="464.51" cy="273.53" r="1.22"/><circle cx="466.1" cy="273.53" r="1.22"/></g>
<path d="M308.99,378.13 L310.57,366.54 L312.16,364.56 L313.75,347.01 L315.33,347.01 L316.92,335.1 L318.51,333.44 L320.1,332.45 L321.68,324.51 L323.27,322.52 L324.86,327.16 L326.44,322.85 L328.03,316.89 L329.62,318.22 L331.2,309.94 L332.79,314.25 L334.38,306.63 L335.97,307.63 L337.55,304.32 L339.14,307.96 L340.73,304.65 L342.31,305.64 L343.9,305.64 L345.49,306.96 L347.07,301.01 L348.66,300.68 L350.25,298.36 L351.84,297.37 L353.42,298.69 L355.01,297.03 L356.6,295.71 L358.18,294.06 L359.77,296.04 L361.36,294.39 L362.94,292.07 L364.53,291.41 L366.12,291.08 L367.71,292.07 L369.29,287.46 L370.88,289.9 L372.47,287.82 L374.05,286.16 L375.64,288.93 L377.23,287.11 L378.81,287.73 L380.4,284.2 L381.99,284.82 L383.58,283.16 L385.16,282.69 L386.75,281.64 L388.34,281.01 L389.92,280.99 L391.51,281.39 L393.1,281.88 L394.68,282.12 L396.27,281.85 L397.86,281.17 L399.45,277.95 L401.03,278.43 L402.62,278.5 L404.21,278.31 L405.79,278.71 L407.38,279.81 L408.97,277.68 L410.55,276.09 L412.14,277.68 L413.73,276.62 L415.32,275.63 L416.9,276.04 L418.49,277.54 L420.08,275.23 L421.66,275.43 L423.25,275.19 L424.84,274.45 L426.42,273.26 L428.01,274.97 L429.6,274.53 L431.19,273.92 L432.77,273.36 L434.36,272.61 L435.95,273.45 L437.53,274.01 L439.12,274 L440.71,273.29 L442.29,273.42 L443.88,273.03 L445.47,272.12 L447.06,271.58 L448.64,271.19 L450.23,270.94 L451.82,271.69 L453.4,272.74 L454.99,272.06 L456.58,271.62 L458.16,271.3 L459.75,271.22 L461.34,271.22 L462.93,271.45 L464.51,271.86 L466.1,271.88" fill="none" stroke="#f8cdb2" stroke-width="0.7"/>
<g fill="#f1651b"><circle cx="308.99" cy="378.13" r="1.22"/><circle cx="310.57" cy="366.54" r="1.22"/><circle cx="312.16" cy="364.56" r="1.22"/><circle cx="313.75" cy="347.01" r="1.22"/><circle cx="315.33" cy="347.01" r="1.22"/><circle cx="316.92" cy="335.1" r="1.22"/><circle cx="318.51" cy="333.44" r="1.22"/><circle cx="320.1" cy="332.45" r="1.22"/><circle cx="321.68" cy="324.51" r="1.22"/><circle cx="323.27" cy="322.52" r="1.22"/><circle cx="324.86" cy="327.16" r="1.22"/><circle cx="326.44" cy="322.85" r="1.22"/><circle cx="328.03" cy="316.89" r="1.22"/><circle cx="329.62" cy="318.22" r="1.22"/><circle cx="331.2" cy="309.94" r="1.22"/><circle cx="332.79" cy="314.25" r="1.22"/><circle cx="334.38" cy="306.63" r="1.22"/><circle cx="335.97" cy="307.63" r="1.22"/><circle cx="337.55" cy="304.32" r="1.22"/><circle cx="339.14" cy="307.96" r="1.22"/><circle cx="340.73" cy="304.65" r="1.22"/><circle cx="342.31" cy="305.64" r="1.22"/><circle cx="343.9" cy="305.64" r="1.22"/><circle cx="345.49" cy="306.96" r="1.22"/><circle cx="347.07" cy="301.01" r="1.22"/><circle cx="348.66" cy="300.68" r="1.22"/><circle cx="350.25" cy="298.36" r="1.22"/><circle cx="351.84" cy="297.37" r="1.22"/><circle cx="353.42" cy="298.69" r="1.22"/><circle cx="355.01" cy="297.03" r="1.22"/><circle cx="356.6" cy="295.71" r="1.22"/><circle cx="358.18" cy="294.06" r="1.22"/><circle cx="359.77" cy="296.04" r="1.22"/><circle cx="361.36" cy="294.39" r="1.22"/><circle cx="362.94" cy="292.07" r="1.22"/><circle cx="364.53" cy="291.41" r="1.22"/><circle cx="366.12" cy="291.08" r="1.22"/><circle cx="367.71" cy="292.07" r="1.22"/><circle cx="369.29" cy="287.46" r="1.22"/><circle cx="370.88" cy="289.9" r="1.22"/><circle cx="372.47" cy="287.82" r="1.22"/><circle cx="374.05" cy="286.16" r="1.22"/><circle cx="375.64" cy="288.93" r="1.22"/><circle cx="377.23" cy="287.11" r="1.22"/><circle cx="378.81" cy="287.73" r="1.22"/><circle cx="380.4" cy="284.2" r="1.22"/><circle cx="381.99" cy="284.82" r="1.22"/><circle cx="383.58" cy="283.16" r="1.22"/><circle cx="385.16" cy="282.69" r="1.22"/><circle cx="386.75" cy="281.64" r="1.22"/><circle cx="388.34" cy="281.01" r="1.22"/><circle cx="389.92" cy="280.99" r="1.22"/><circle cx="391.51" cy="281.39" r="1.22"/><circle cx="393.1" cy="281.88" r="1.22"/><circle cx="394.68" cy="282.12" r="1.22"/><circle cx="396.27" cy="281.85" r="1.22"/><circle cx="397.86" cy="281.17" r="1.22"/><circle cx="399.45" cy="277.95" r="1.22"/><circle cx="401.03" cy="278.43" r="1.22"/><circle cx="402.62" cy="278.5" r="1.22"/><circle cx="404.21" cy="278.31" r="1.22"/><circle cx="405.79" cy="278.71" r="1.22"/><circle cx="407.38" cy="279.81" r="1.22"/><circle cx="408.97" cy="277.68" r="1.22"/><circle cx="410.55" cy="276.09" r="1.22"/><circle cx="412.14" cy="277.68" r="1.22"/><circle cx="413.73" cy="276.62" r="1.22"/><circle cx="415.32" cy="275.63" r="1.22"/><circle cx="416.9" cy="276.04" r="1.22"/><circle cx="418.49" cy="277.54" r="1.22"/><circle cx="420.08" cy="275.23" r="1.22"/><circle cx="421.66" cy="275.43" r="1.22"/><circle cx="423.25" cy="275.19" r="1.22"/><circle cx="424.84" cy="274.45" r="1.22"/><circle cx="426.42" cy="273.26" r="1.22"/><circle cx="428.01" cy="274.97" r="1.22"/><circle cx="429.6" cy="274.53" r="1.22"/><circle cx="431.19" cy="273.92" r="1.22"/><circle cx="432.77" cy="273.36" r="1.22"/><circle cx="434.36" cy="272.61" r="1.22"/><circle cx="435.95" cy="273.45" r="1.22"/><circle cx="437.53" cy="274.01" r="1.22"/><circle cx="439.12" cy="274" r="1.22"/><circle cx="440.71" cy="273.29" r="1.22"/><circle cx="442.29" cy="273.42" r="1.22"/><circle cx="443.88" cy="273.03" r="1.22"/><circle cx="445.47" cy="272.12" r="1.22"/><circle cx="447.06" cy="271.58" r="1.22"/><circle cx="448.64" cy="271.19" r="1.22"/><circle cx="450.23" cy="270.94" r="1.22"/><circle cx="451.82" cy="271.69" r="1.22"/><circle cx="453.4" cy="272.74" r="1.22"/><circle cx="454.99" cy="272.06" r="1.22"/><circle cx="456.58" cy="271.62" r="1.22"/><circle cx="458.16" cy="271.3" r="1.22"/><circle cx="459.75" cy="271.22" r="1.22"/><circle cx="461.34" cy="271.22" r="1.22"/><circle cx="462.93" cy="271.45" r="1.22"/><circle cx="464.51" cy="271.86" r="1.22"/><circle cx="466.1" cy="271.88" r="1.22"/></g>
<path d="M299.5,259.3 V424.8 H505.8" fill="none" stroke="#4b4b4b" stroke-width="1.3" stroke-linejoin="round"/>
<path d="M299.5,424.8 h-3 M299.5,391.7 h-3 M299.5,358.6 h-3 M299.5,325.5 h-3 M299.5,292.4 h-3 M299.5,259.3 h-3 M307.4,424.8 v3.4 M339.14,424.8 v3.4 M370.88,424.8 v3.4 M402.62,424.8 v3.4 M434.36,424.8 v3.4 M466.1,424.8 v3.4 M497.84,424.8 v3.4" stroke="#4b4b4b" stroke-width="1.2"/>
<path d="M299.5,408.25 h-1.8 M299.5,375.15 h-1.8 M299.5,342.05 h-1.8 M299.5,308.95 h-1.8 M299.5,275.85 h-1.8 M323.27,424.8 v1.8 M355.01,424.8 v1.8 M386.75,424.8 v1.8 M418.49,424.8 v1.8 M450.23,424.8 v1.8 M481.97,424.8 v1.8" stroke="#4b4b4b" stroke-width="1"/>
<text x="294.5" y="428" class="tl" text-anchor="end">0.0</text>
<text x="294.5" y="394.9" class="tl" text-anchor="end">0.1</text>
<text x="294.5" y="361.8" class="tl" text-anchor="end">0.2</text>
<text x="294.5" y="328.7" class="tl" text-anchor="end">0.3</text>
<text x="294.5" y="295.6" class="tl" text-anchor="end">0.4</text>
<text x="294.5" y="262.5" class="tl" text-anchor="end">0.5</text>
<text x="307.4" y="436.4" class="xl" text-anchor="middle" textLength="3.4" lengthAdjust="spacingAndGlyphs">0</text>
<text x="339.14" y="436.4" class="xl" text-anchor="middle" textLength="6.8" lengthAdjust="spacingAndGlyphs">20</text>
<text x="370.88" y="436.4" class="xl" text-anchor="middle" textLength="6.8" lengthAdjust="spacingAndGlyphs">40</text>
<text x="402.62" y="436.4" class="xl" text-anchor="middle" textLength="6.8" lengthAdjust="spacingAndGlyphs">60</text>
<text x="434.36" y="436.4" class="xl" text-anchor="middle" textLength="6.8" lengthAdjust="spacingAndGlyphs">80</text>
<text x="466.1" y="436.4" class="xl" text-anchor="middle" textLength="10.2" lengthAdjust="spacingAndGlyphs">100</text>
<text x="497.84" y="436.4" class="xl" text-anchor="middle" textLength="10.2" lengthAdjust="spacingAndGlyphs">120</text>
<text x="402.5" y="448" class="al" text-anchor="middle">Epoch</text>
<text transform="translate(280.5,376.9) rotate(-90)" class="yl" textLength="66.5" lengthAdjust="spacingAndGlyphs">mAP50~95 (Mask)</text>
<text x="402.3" y="464.5" class="cap" text-anchor="middle">(<tspan stroke="#1a1a1a" stroke-width="0.3">d</tspan>)</text>
<rect x="470.9" y="242.4" width="75" height="20" fill="#fff" stroke="#a6a6a6" stroke-width="1.15"/>
<line x1="471.9" y1="247.8" x2="488.4" y2="247.8" stroke="#9db2e6" stroke-width="0.85"/>
<circle cx="480" cy="247.8" r="1.15" fill="#2657bd"/>
<text x="492.9" y="250.6" class="lg" textLength="51" lengthAdjust="spacing">original_gas</text>
<line x1="471.9" y1="257.3" x2="488.4" y2="257.3" stroke="#f6b894" stroke-width="0.85"/>
<circle cx="480" cy="257.3" r="1.15" fill="#f1651b"/>
<text x="492.9" y="260.1" class="lg" textLength="38.3" lengthAdjust="spacing">smoke_gas</text></g>
</svg>
</body></html>
